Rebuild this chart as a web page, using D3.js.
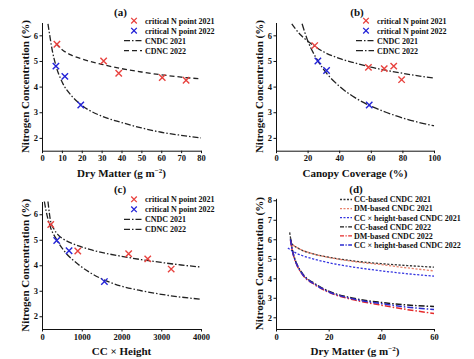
<!DOCTYPE html>
<html><head><meta charset="utf-8">
<script src="https://cdn.jsdelivr.net/npm/d3@7"></script>
<style>
body{margin:0;background:#fff;}
text{font-family:"Liberation Serif","Times New Roman",serif;font-weight:bold;fill:#111;}
</style></head>
<body><svg id="c" width="474" height="359"></svg>
<script>
// ---------- data ----------
const legendA = ["critical N point 2021","critical N point 2022","CNDC 2021","CDNC 2022"];
const legendD = ["CC-based CNDC 2021","DM-based CNDC 2021","CC \u00d7 height-based CNDC 2021","CC-based CNDC 2022","DM-based CNDC 2022","CC \u00d7 height-based CNDC 2022"];

const aRed2021  = [[7.5,5.65],[31,5.0],[38.6,4.52],[60.5,4.35],[72.5,4.25]];
const aBlue2022 = [[7,4.8],[11.5,4.4],[19.5,3.28]];
const aCurve2021 = [[3,6.45],[4,5.95],[5,5.48],[7,4.82],[10,4.2],[15,3.63],[20,3.27],[30,2.85],[40,2.6],[50,2.39],[60,2.22],[70,2.1],[80,2.0]];
const aCurve2022 = [[7,5.68],[10,5.45],[15,5.22],[20,5.08],[30,4.87],[40,4.7],[50,4.57],[60,4.46],[70,4.37],[80,4.3]];

const bRed2021  = [[24.5,5.6],[58.5,4.75],[68.5,4.7],[74.5,4.8],[79.5,4.27]];
const bBlue2022 = [[26.5,5.0],[32,4.63],[59,3.28]];
const bCurve2021 = [[10,6.45],[15,6.05],[20,5.78],[25,5.55],[30,5.36],[40,5.1],[50,4.92],[60,4.76],[70,4.63],[80,4.52],[90,4.42],[100,4.33]];
const bCurve2022 = [[16.5,6.45],[20,5.8],[25,5.16],[30,4.68],[40,4.02],[50,3.57],[60,3.24],[70,2.99],[80,2.78],[90,2.61],[100,2.47]];

const cRed2021  = [[220,5.6],[900,4.56],[2180,4.45],[2660,4.25],[3250,3.85]];
const cBlue2022 = [[370,4.97],[680,4.57],[1570,3.36]];
const cCurve2021 = [[150,6.5],[220,5.7],[300,5.42],[400,5.2],[600,4.97],[900,4.77],[1200,4.62],[1600,4.47],[2000,4.35],[2500,4.22],[3000,4.11],[3500,4.01],[4000,3.93]];
const cCurve2022 = [[60,6.5],[100,6.15],[200,5.55],[370,5.0],[600,4.48],[900,4.05],[1200,3.72],[1570,3.42],[2000,3.18],[2500,3.0],[3000,2.86],[3500,2.75],[4000,2.67]];

const dCC2021  = [[5.2,6.35],[5.6,6.0],[6,5.78],[8,5.57],[10,5.43],[15,5.22],[20,5.08],[30,4.88],[40,4.75],[50,4.65],[60,4.57]];
const dDM2021  = [[6.5,5.7],[8,5.57],[10,5.44],[15,5.22],[20,5.07],[30,4.85],[40,4.7],[50,4.53],[60,4.38]];
const dCCH2021 = [[4.5,5.55],[6,5.42],[8,5.27],[10,5.16],[15,4.96],[20,4.8],[30,4.56],[40,4.38],[50,4.23],[60,4.11]];
const dCC2022  = [[5.5,6.05],[6,5.6],[7,5.05],[8,4.7],[10,4.25],[15,3.7],[20,3.34],[30,2.96],[40,2.76],[50,2.63],[60,2.55]];
const dDM2022  = [[5.5,5.95],[6,5.55],[7,5.0],[8,4.65],[10,4.2],[15,3.65],[20,3.29],[30,2.88],[40,2.62],[50,2.39],[60,2.2]];
const dCCH2022 = [[5.5,6.0],[6,5.58],[7,5.02],[8,4.68],[10,4.22],[15,3.67],[20,3.31],[30,2.92],[40,2.7],[50,2.52],[60,2.4]];

const ticksA = [0,10,20,30,40,50,60,70,80];
const ticksB = [0,20,40,60,80,100];
const ticksC = [0,1000,2000,3000,4000];
const ticksD = [0,20,40,60];
const yTicksN = [2,3,4,5,6];
const yTicksD = [2,3,4,5,6,7,8];

// ---------- drawing ----------
const svg = d3.select("#c");
svg.append("rect").attr("width",474).attr("height",359).attr("fill","#fff");
const RED="#e8423e", BLUE="#2323d8", BLK="#222";
const DASHDOT="6,2,1.5,2", DASH="5,3", DOT="2.2,1.6";
const fmt = d => String(d);

function panel(o){
  const g = svg.append("g");
  const x = d3.scaleLinear().domain(o.xd).range([o.x0,o.x1]);
  const y = d3.scaleLinear().domain(o.yd).range([o.y1,o.y0]);
  const ax = g.append("g").attr("transform",`translate(0,${o.y1})`)
    .call(d3.axisBottom(x).tickValues(o.xt).tickFormat(fmt).tickSize(2.5).tickSizeOuter(0).tickPadding(2));
  const ay = g.append("g").attr("transform",`translate(${o.x0},0)`)
    .call(d3.axisLeft(y).tickValues(o.yt).tickFormat(fmt).tickSize(2.5).tickSizeOuter(0).tickPadding(1.5));
  [ax,ay].forEach(a=>{
    a.selectAll("text").style("font-size","8.5px").style("font-family","Liberation Serif").style("font-weight","bold").attr("fill","#111");
    a.selectAll("path,line").attr("stroke","#111").attr("stroke-width",1);
  });
  g.append("text").attr("x",o.tx).attr("y",o.ty).attr("text-anchor","middle").style("font-size","11px").text(o.title);
  const xl = g.append("text").attr("x",(o.x0+o.x1)/2).attr("y",o.y1+26).attr("text-anchor","middle").style("font-size","11px");
  if(o.xlab==="dm"){
    xl.append("tspan").text("Dry Matter (g m");
    xl.append("tspan").attr("dy",-4).style("font-size","7px").text("\u22122");
    xl.append("tspan").attr("dy",4).text(")");
  } else xl.text(o.xlab);
  g.append("text").attr("transform",`translate(${o.x0-13},${(o.y0+o.y1)/2}) rotate(-90)`)
    .attr("text-anchor","middle").style("font-size","11px").text("Nitrogen Concentration (%)");
  const line = d3.line().x(d=>x(d[0])).y(d=>y(d[1])).curve(d3.curveMonotoneX);
  (o.curves||[]).forEach(c=>{
    g.append("path").attr("d",line(c.data)).attr("fill","none").attr("stroke",c.color)
      .attr("stroke-width",c.w||1.3).attr("stroke-dasharray",c.dash);
  });
  (o.points||[]).forEach(p=>{
    p.data.forEach(d=>{
      const cx=x(d[0]), cy=y(d[1]), s=3.2;
      g.append("path").attr("d",`M${cx-s},${cy-s}L${cx+s},${cy+s}M${cx-s},${cy+s}L${cx+s},${cy-s}`)
        .attr("stroke",p.color).attr("stroke-width",1.4).attr("fill","none");
    });
  });
  return {g,x,y};
}

function legendNP(g, lx, ly, dashes){
  const cols=[RED,BLUE];
  for(let i=0;i<2;i++){
    const cx=lx-11, cy=ly+i*10, s=2.8;
    g.append("path").attr("d",`M${cx-s},${cy-s}L${cx+s},${cy+s}M${cx-s},${cy+s}L${cx+s},${cy-s}`)
      .attr("stroke",cols[i]).attr("stroke-width",1.3);
    g.append("text").attr("x",lx).attr("y",cy+2.8).style("font-size","8px").text(legendA[i]);
  }
  for(let i=0;i<2;i++){
    const cy=ly+(i+2)*10;
    g.append("line").attr("x1",lx-21).attr("x2",lx-3).attr("y1",cy).attr("y2",cy)
      .attr("stroke",BLK).attr("stroke-width",1.3).attr("stroke-dasharray",dashes[i]);
    g.append("text").attr("x",lx).attr("y",cy+2.8).style("font-size","8px").text(legendA[i+2]);
  }
}

const A = panel({x0:42,x1:201,y0:22.5,y1:150.7,xd:[0,80],yd:[1.5,6.5],xt:ticksA,yt:yTicksN,
  title:"(a)",tx:120.5,ty:16,xlab:"dm",
  curves:[{data:aCurve2021,color:BLK,dash:DASHDOT},{data:aCurve2022,color:BLK,dash:DASH}],
  points:[{data:aRed2021,color:RED},{data:aBlue2022,color:BLUE}]});
legendNP(A.g,145,20.7,[DASHDOT,DASH]);

const B = panel({x0:276,x1:434,y0:22.5,y1:150.7,xd:[0,100],yd:[1.5,6.5],xt:ticksB,yt:yTicksN,
  title:"(b)",tx:357,ty:16,xlab:"Canopy Coverage (%)",
  curves:[{data:bCurve2021,color:BLK,dash:DASHDOT},{data:bCurve2022,color:BLK,dash:"7,2,1.5,2"}],
  points:[{data:bRed2021,color:RED},{data:bBlue2022,color:BLUE}]});
legendNP(B.g,377,20.7,[DASHDOT,"7,2,1.5,2"]);

const C = panel({x0:42,x1:201,y0:201.5,y1:329,xd:[0,4000],yd:[1.5,6.5],xt:ticksC,yt:yTicksN,
  title:"(c)",tx:120,ty:193,xlab:"CC \u00d7 Height",
  curves:[{data:cCurve2021,color:BLK,dash:DASHDOT},{data:cCurve2022,color:BLK,dash:DASHDOT}],
  points:[{data:cRed2021,color:RED},{data:cBlue2022,color:BLUE}]});
legendNP(C.g,145,199.3,[DASHDOT,DASHDOT]);

const dSeries=[
  {data:dCC2021,color:"#333",dash:DOT},
  {data:dDM2021,color:"#e8806a",dash:DOT},
  {data:dCCH2021,color:"#3434e0",dash:DOT},
  {data:dCC2022,color:"#1a1a1a",dash:DASHDOT,w:1.5},
  {data:dDM2022,color:"#e52a2a",dash:DASHDOT,w:1.5},
  {data:dCCH2022,color:"#2a2ad0",dash:DASHDOT,w:1.5}
];
const D = panel({x0:276,x1:434,y0:198.3,y1:329,xd:[0,60],yd:[1.4,8.1],xt:ticksD,yt:yTicksD,
  title:"(d)",tx:356,ty:193,xlab:"dm",curves:dSeries});
dSeries.forEach((s,i)=>{
  const cy=199.5+i*9.1;
  D.g.append("line").attr("x1",340).attr("x2",352).attr("y1",cy).attr("y2",cy)
    .attr("stroke",s.color).attr("stroke-width",1.3).attr("stroke-dasharray",i<3?"2,1.5":"4,1.5,1.2,1.5");
  D.g.append("text").attr("x",354).attr("y",cy+2.8).style("font-size","8px").text(legendD[i]);
});
</script></body></html>
